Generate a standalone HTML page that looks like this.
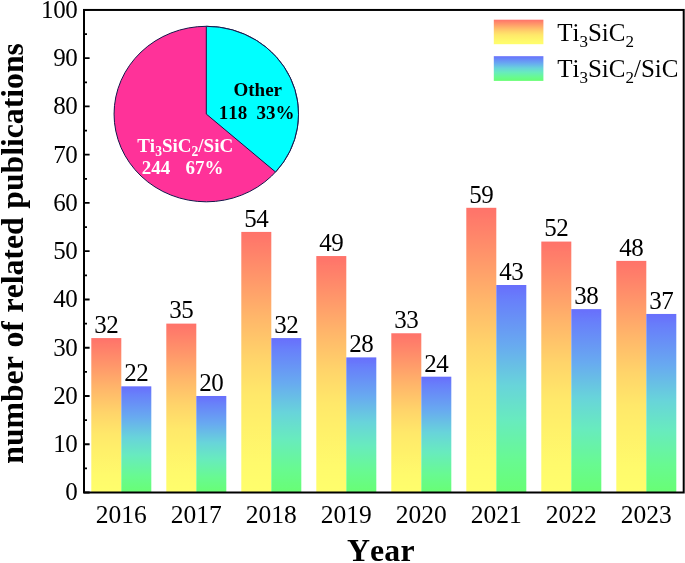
<!DOCTYPE html>
<html><head><meta charset="utf-8"><title>Publications per year</title>
<style>
html,body{margin:0;padding:0;background:#fff;}
svg{display:block;}
text{font-family:"Liberation Serif","Times New Roman",serif;fill:#000;font-kerning:none;}
.w{fill:#fff;}
.t{font-size:25.5px;}
.v{font-size:25px;letter-spacing:-0.4px;}
.b{font-weight:bold;}
</style></head><body>
<svg width="685" height="563" viewBox="0 0 685 563">
<defs>
<linearGradient id="ga" x1="0" y1="0" x2="0" y2="1"><stop offset="0.000" stop-color="#ff726b"/><stop offset="0.184" stop-color="#ff986a"/><stop offset="0.325" stop-color="#ffb66a"/><stop offset="0.483" stop-color="#ffd46a"/><stop offset="0.623" stop-color="#ffe86a"/><stop offset="0.746" stop-color="#fff16b"/><stop offset="0.887" stop-color="#fffa6c"/><stop offset="1.000" stop-color="#fffe6c"/></linearGradient>
<linearGradient id="gb" x1="0" y1="0" x2="0" y2="1"><stop offset="0.000" stop-color="#676efc"/><stop offset="0.073" stop-color="#6780fa"/><stop offset="0.290" stop-color="#67aaf0"/><stop offset="0.483" stop-color="#68d4da"/><stop offset="0.652" stop-color="#68ebbe"/><stop offset="0.845" stop-color="#68fa91"/><stop offset="1.000" stop-color="#68fe74"/></linearGradient>
<filter id="soft" filterUnits="userSpaceOnUse" x="-10" y="-10" width="705" height="583"><feGaussianBlur stdDeviation="0.4"/></filter>
</defs>
<rect width="685" height="563" fill="#fff"/>
<g filter="url(#soft)">

<rect x="91.3" y="338.08" width="30.0" height="154.42" fill="url(#ga)"/>
<rect x="121.3" y="386.34" width="30.0" height="106.16" fill="url(#gb)"/>
<text class="v" x="106.3" y="332.9" text-anchor="middle">32</text>
<text class="v" x="136.3" y="381.1" text-anchor="middle">22</text>
<text class="t" x="121.3" y="522.9" text-anchor="middle">2016</text>
<rect x="166.3" y="323.61" width="30.0" height="168.89" fill="url(#ga)"/>
<rect x="196.3" y="395.99" width="30.0" height="96.51" fill="url(#gb)"/>
<text class="v" x="181.3" y="318.4" text-anchor="middle">35</text>
<text class="v" x="211.3" y="390.8" text-anchor="middle">20</text>
<text class="t" x="196.3" y="522.9" text-anchor="middle">2017</text>
<rect x="241.3" y="231.92" width="30.0" height="260.58" fill="url(#ga)"/>
<rect x="271.3" y="338.08" width="30.0" height="154.42" fill="url(#gb)"/>
<text class="v" x="256.3" y="226.7" text-anchor="middle">54</text>
<text class="v" x="286.3" y="332.9" text-anchor="middle">32</text>
<text class="t" x="271.3" y="522.9" text-anchor="middle">2018</text>
<rect x="316.3" y="256.05" width="30.0" height="236.45" fill="url(#ga)"/>
<rect x="346.3" y="357.39" width="30.0" height="135.11" fill="url(#gb)"/>
<text class="v" x="331.3" y="250.9" text-anchor="middle">49</text>
<text class="v" x="361.3" y="352.2" text-anchor="middle">28</text>
<text class="t" x="346.3" y="522.9" text-anchor="middle">2019</text>
<rect x="391.3" y="333.26" width="30.0" height="159.24" fill="url(#ga)"/>
<rect x="421.3" y="376.69" width="30.0" height="115.81" fill="url(#gb)"/>
<text class="v" x="406.3" y="328.1" text-anchor="middle">33</text>
<text class="v" x="436.3" y="371.5" text-anchor="middle">24</text>
<text class="t" x="421.3" y="522.9" text-anchor="middle">2020</text>
<rect x="466.3" y="207.80" width="30.0" height="284.70" fill="url(#ga)"/>
<rect x="496.3" y="285.00" width="30.0" height="207.50" fill="url(#gb)"/>
<text class="v" x="481.3" y="202.6" text-anchor="middle">59</text>
<text class="v" x="511.3" y="279.8" text-anchor="middle">43</text>
<text class="t" x="496.3" y="522.9" text-anchor="middle">2021</text>
<rect x="541.3" y="241.57" width="30.0" height="250.93" fill="url(#ga)"/>
<rect x="571.3" y="309.13" width="30.0" height="183.37" fill="url(#gb)"/>
<text class="v" x="556.3" y="236.4" text-anchor="middle">52</text>
<text class="v" x="586.3" y="303.9" text-anchor="middle">38</text>
<text class="t" x="571.3" y="522.9" text-anchor="middle">2022</text>
<rect x="616.3" y="260.88" width="30.0" height="231.62" fill="url(#ga)"/>
<rect x="646.3" y="313.96" width="30.0" height="178.54" fill="url(#gb)"/>
<text class="v" x="631.3" y="255.7" text-anchor="middle">48</text>
<text class="v" x="661.3" y="308.8" text-anchor="middle">37</text>
<text class="t" x="646.3" y="522.9" text-anchor="middle">2023</text>
<rect x="84.0" y="9.95" width="599.7" height="482.55" fill="none" stroke="#000" stroke-width="2"/>
<path d="M84.0 492.50h5.6 M84.0 468.37h3.0 M84.0 444.25h5.6 M84.0 420.12h3.0 M84.0 395.99h5.6 M84.0 371.86h3.0 M84.0 347.74h5.6 M84.0 323.61h3.0 M84.0 299.48h5.6 M84.0 275.35h3.0 M84.0 251.22h5.6 M84.0 227.10h3.0 M84.0 202.97h5.6 M84.0 178.84h3.0 M84.0 154.71h5.6 M84.0 130.59h3.0 M84.0 106.46h5.6 M84.0 82.33h3.0 M84.0 58.20h5.6 M84.0 34.08h3.0 M84.0 9.95h5.6" stroke="#000" stroke-width="1.8" fill="none"/>
<text class="v" x="77.4" y="500.3" text-anchor="end">0</text>
<text class="v" x="77.4" y="452.0" text-anchor="end">10</text>
<text class="v" x="77.4" y="403.8" text-anchor="end">20</text>
<text class="v" x="77.4" y="355.5" text-anchor="end">30</text>
<text class="v" x="77.4" y="307.3" text-anchor="end">40</text>
<text class="v" x="77.4" y="259.0" text-anchor="end">50</text>
<text class="v" x="77.4" y="210.8" text-anchor="end">60</text>
<text class="v" x="77.4" y="162.5" text-anchor="end">70</text>
<text class="v" x="77.4" y="114.3" text-anchor="end">80</text>
<text class="v" x="77.4" y="66.0" text-anchor="end">90</text>
<text class="v" x="77.4" y="17.7" text-anchor="end">100</text>
<text class="b" font-size="31.7" word-spacing="0.8" transform="translate(23.1 253.4) rotate(-90)" text-anchor="middle">number of related publications</text>
<text class="b" font-size="31.8" letter-spacing="0.15" x="380.8" y="561.2" text-anchor="middle">Year</text>
<rect x="493.8" y="19.7" width="49.6" height="24.5" fill="url(#ga)"/>
<rect x="493.8" y="56.2" width="49.6" height="24.7" fill="url(#gb)"/>
<text font-size="25" x="557.2" y="40.6">Ti<tspan dy="6.3" font-size="17">3</tspan><tspan dy="-6.3">SiC</tspan><tspan dy="6.3" font-size="17">2</tspan></text>
<text font-size="25" x="557.2" y="76.6">Ti<tspan dy="6.3" font-size="17">3</tspan><tspan dy="-6.3">SiC</tspan><tspan dy="6.3" font-size="17">2</tspan><tspan dy="-6.3">/SiC</tspan></text>
<ellipse cx="206.3" cy="114.05" rx="92.25" ry="87.75" fill="#ff3399" stroke="#15154a" stroke-width="1.0"/>
<path d="M206.3 114.05L206.3 26.299999999999997A92.25 87.75 0 0 1 275.55 172.0Z" fill="#00ffff" stroke="#15154a" stroke-width="1.0" stroke-linejoin="round"/>
<text class="b" font-size="19.0" x="257.8" y="96" text-anchor="middle">Other</text>
<text class="b" font-size="19.0" x="233.0" y="119.0" text-anchor="middle">118</text>
<text class="b" font-size="19.0" x="275.6" y="119.0" text-anchor="middle">33%</text>
<text class="b w" font-size="19.0" x="137.2" y="151.9">Ti<tspan dy="3.8" font-size="13.6">3</tspan><tspan dy="-3.8">SiC</tspan><tspan dy="3.8" font-size="13.6">2</tspan><tspan dy="-3.8">/SiC</tspan></text>
<text class="b w" font-size="19.0" x="156" y="174" text-anchor="middle">244</text>
<text class="b w" font-size="19.0" x="204.6" y="174" text-anchor="middle">67%</text>
</g></svg></body></html>
